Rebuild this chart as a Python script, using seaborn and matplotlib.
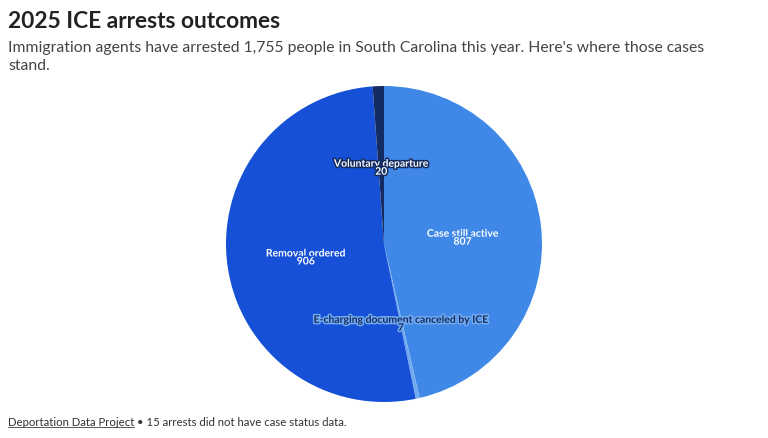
import matplotlib
matplotlib.use("Agg")
import matplotlib.pyplot as plt
import matplotlib.patheffects as pe
import seaborn as sns

categories = ["Case still active", "E-charging document canceled by ICE", "Removal ordered", "Voluntary departure"]
values = [807, 7, 906, 20]
colors = ["#3f88e8", "#72aaf0", "#1550d6", "#142c62"]
text_colors = ["white", "#142c62", "white", "white"]

title = "2025 ICE arrests outcomes"
subtitle = "Immigration agents have arrested 1,755 people in South Carolina this year. Here's where those cases\nstand."
source = "Deportation Data Project"
note = " \u2022 15 arrests did not have case status data."

sns.set_theme(style="white")
plt.rcParams['font.family'] = ['Lato', 'DejaVu Sans']

W, H = 768, 439
fig = plt.figure(figsize=(W / 100, H / 100), dpi=100)
fig.patch.set_facecolor("white")

cx, cy, r = 384, 245, 158
ax = fig.add_axes([(cx - r) / W, (H - cy - r) / H, 2 * r / W, 2 * r / H])
wedges, texts = ax.pie(values, colors=colors, startangle=90, counterclock=False,
                       labels=[f"{c}\n{v}" for c, v in zip(categories, values)],
                       labeldistance=0.5, radius=1,
                       wedgeprops=dict(linewidth=0),
                       textprops=dict(ha="center", va="center", fontsize=7.5, fontweight="bold",
                                      linespacing=0.85))
for t, tc, c in zip(texts, text_colors, colors):
    t.set_color(tc)
    t.set_path_effects([pe.withStroke(linewidth=2.2, foreground=c)])
    x, y = t.get_position()
    t.set_position((x, y - 0.02))
ax.set_xlim(-1, 1)
ax.set_ylim(-1, 1)
ax.set_aspect("equal")
ax.axis("off")

fig.text(8 / W, 1 - 21 / H, title, fontsize=16.4, fontweight="bold", color="#222222", va="center", ha="left")
fig.text(8 / W, 1 - 57 / H, subtitle, fontsize=11.3, color="#444444", va="center", ha="left", linespacing=1.3)
src = fig.text(8 / W, 1 - 423 / H, source, fontsize=8.2, color="#333333", va="center", ha="left")
fig.canvas.draw()
bb = src.get_window_extent()
# underline
fig.add_artist(plt.Line2D([bb.x0 / W, bb.x1 / W], [(bb.y0 + 1) / H, (bb.y0 + 1) / H], color="#555555", lw=0.7))
fig.text(bb.x1 / W, 1 - 423 / H, note, fontsize=8.2, color="#333333", va="center", ha="left")

fig.savefig("out.png", dpi=100)
